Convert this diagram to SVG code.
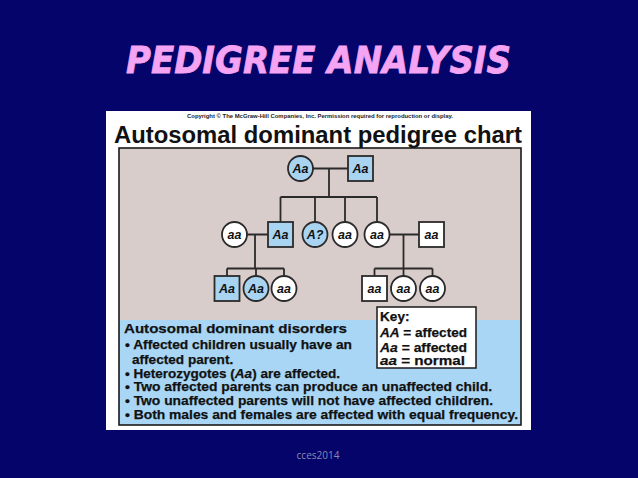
<svg xmlns="http://www.w3.org/2000/svg" width="638" height="478" viewBox="0 0 638 478">
<style>
.title{font-family:"DejaVu Sans","Liberation Sans",sans-serif;font-weight:bold;font-style:italic;font-size:37px;fill:#f5a3f3;stroke:#f5a3f3;stroke-width:0.8}
.hd{font-family:"Liberation Sans",Arial,sans-serif;font-weight:bold;fill:#111}
.lbl{font-family:"Liberation Sans",Arial,sans-serif;font-weight:bold;font-style:italic;font-size:12.5px;fill:#111;text-anchor:middle}
.body{font-family:"Liberation Sans",Arial,sans-serif;font-weight:bold;font-size:13.6px;fill:#111;stroke:#111;stroke-width:0.25}
.line{stroke:#2a2a2a;stroke-width:1.8;fill:none}
.aff{fill:#a8d4f2;stroke:#2a2a2a;stroke-width:1.8}
.un{fill:#ffffff;stroke:#2a2a2a;stroke-width:1.8}
</style>
<rect x="0" y="0" width="638" height="478" fill="#04046a"/>
<text class="title" x="126" y="73" textLength="385" lengthAdjust="spacingAndGlyphs">PEDIGREE ANALYSIS</text>
<rect x="106" y="111" width="425" height="319" fill="#ffffff"/>
<text x="320" y="118" font-family="Liberation Sans,Arial,sans-serif" font-size="5.5" font-weight="bold" fill="#222" text-anchor="middle" textLength="266" lengthAdjust="spacingAndGlyphs">Copyright © The McGraw-Hill Companies, Inc. Permission required for reproduction or display.</text>
<text class="hd" x="114" y="143" font-size="23" textLength="408" lengthAdjust="spacingAndGlyphs">Autosomal dominant pedigree chart</text>
<rect x="119" y="148" width="402" height="172" fill="#d9cdcc"/>
<rect x="119" y="320" width="402" height="105" fill="#a8d6f4"/>
<rect x="119" y="148" width="402" height="277" fill="none" stroke="#1a1a1a" stroke-width="1.6"/>
<g id="connectors">
<path class="line" d="M313 168.5 H348 M329 168.5 V197 M280.5 197 H377 M280.5 197 V222 M315 197 V222 M345 197 V222 M377 197 V222"/>
<path class="line" d="M247 234.5 H268 M255 234.5 V268.5 M227 268.5 H284 M227 268.5 V276 M256 268.5 V276 M284 268.5 V276"/>
<path class="line" d="M390 234.5 H419 M403.5 234.5 V268.5 M374.5 268.5 H432.5 M374.5 268.5 V276 M403.5 268.5 V276 M432.5 268.5 V276"/>
</g>
<g id="n1"><circle class="aff" cx="300.5" cy="168.5" r="12.5"/><text class="lbl" x="300.5" y="172.5">Aa</text></g>
<g id="n2"><rect class="aff" x="348" y="156" width="25" height="25"/><text class="lbl" x="360.5" y="172.5">Aa</text></g>
<g id="n3"><circle class="un" cx="234.5" cy="234.5" r="12.5"/><text class="lbl" x="234.5" y="238.5">aa</text></g>
<g id="n4"><rect class="aff" x="268" y="222" width="25" height="25"/><text class="lbl" x="280.5" y="238.5">Aa</text></g>
<g id="n5"><circle class="aff" cx="315" cy="234.5" r="12.5"/><text class="lbl" x="315" y="238.5">A?</text></g>
<g id="n6"><circle class="un" cx="345" cy="234.5" r="12.5"/><text class="lbl" x="345" y="238.5">aa</text></g>
<g id="n7"><circle class="un" cx="377" cy="234.5" r="12.5"/><text class="lbl" x="377" y="238.5">aa</text></g>
<g id="n8"><rect class="un" x="419" y="222" width="25" height="25"/><text class="lbl" x="431.5" y="238.5">aa</text></g>
<g id="n9"><rect class="aff" x="214.5" y="276" width="25" height="25"/><text class="lbl" x="227" y="292.5">Aa</text></g>
<g id="n10"><circle class="aff" cx="256" cy="288.5" r="12.5"/><text class="lbl" x="256" y="292.5">Aa</text></g>
<g id="n11"><circle class="un" cx="284" cy="288.5" r="12.5"/><text class="lbl" x="284" y="292.5">aa</text></g>
<g id="n12"><rect class="un" x="362" y="276" width="25" height="25"/><text class="lbl" x="374.5" y="292.5">aa</text></g>
<g id="n13"><circle class="un" cx="403.5" cy="288.5" r="12.5"/><text class="lbl" x="403.5" y="292.5">aa</text></g>
<g id="n14"><circle class="un" cx="432.5" cy="288.5" r="12.5"/><text class="lbl" x="432.5" y="292.5">aa</text></g>
<g id="key">
<rect x="377" y="307" width="99" height="61" fill="#ffffff" stroke="#1a1a1a" stroke-width="1.5"/>
<text class="body" x="380" y="321" font-size="14.5">Key:</text>
<text class="body" x="380" y="337" font-size="14" textLength="87" lengthAdjust="spacingAndGlyphs"><tspan font-style="italic">AA</tspan> = affected</text>
<text class="body" x="380" y="351.5" font-size="14" textLength="87" lengthAdjust="spacingAndGlyphs"><tspan font-style="italic">Aa</tspan> = affected</text>
<text class="body" x="380" y="365" font-size="14" textLength="85" lengthAdjust="spacingAndGlyphs"><tspan font-style="italic">aa</tspan>  = normal</text>
</g>
<g id="notes">
<text class="body" x="124" y="333" font-size="14.3" textLength="223" lengthAdjust="spacingAndGlyphs">Autosomal dominant disorders</text>
<text class="body" x="125" y="349" textLength="227" lengthAdjust="spacingAndGlyphs">• Affected children usually have an</text>
<text class="body" x="132" y="363.5">affected parent.</text>
<text class="body" x="125" y="377.5" textLength="215" lengthAdjust="spacingAndGlyphs">• Heterozygotes (<tspan font-style="italic">Aa</tspan>) are affected.</text>
<text class="body" x="125" y="391" textLength="367" lengthAdjust="spacingAndGlyphs">• Two affected parents can produce an unaffected child.</text>
<text class="body" x="125" y="405" textLength="368" lengthAdjust="spacingAndGlyphs">• Two unaffected parents will not have affected children.</text>
<text class="body" x="125" y="418.5" textLength="393" lengthAdjust="spacingAndGlyphs">• Both males and females are affected with equal frequency.</text>
</g>
<text x="318" y="459" font-family="Open Sans,Liberation Sans,sans-serif" font-size="10" fill="#8a8ab4" text-anchor="middle">cces2014</text>
</svg>
